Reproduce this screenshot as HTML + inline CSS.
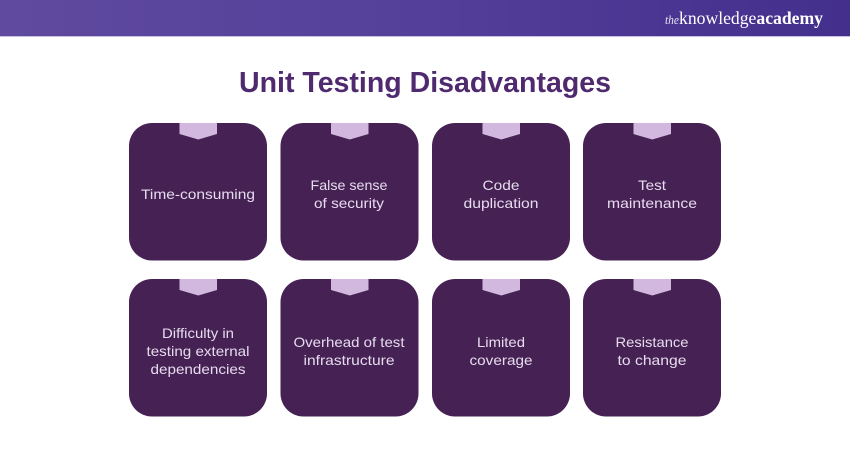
<!DOCTYPE html>
<html>
<head>
<meta charset="utf-8">
<style>
html,body{margin:0;padding:0;background:#fff}
svg{display:block}
text{font-family:"Liberation Sans",sans-serif}
.t{font-size:14px;fill:#e6dcee;text-anchor:middle}
</style>
</head>
<body>
<svg width="850" height="450" viewBox="0 0 850 450" xmlns="http://www.w3.org/2000/svg">
<defs>
<linearGradient id="g" x1="0" x2="1" y1="0" y2="0">
<stop offset="0" stop-color="#5f4a9f"/>
<stop offset="0.5" stop-color="#54409a"/>
<stop offset="1" stop-color="#432f8c"/>
</linearGradient>
<g id="c">
<rect x="0" y="0" width="138" height="137.500" rx="23" fill="#462154"/>
<path d="M50.500 0H88V11L69.300 16.500L50.500 11Z" fill="#d2b8de"/>
</g>
</defs>
<rect width="850" height="36" fill="url(#g)"/>
<rect y="36" width="850" height="1" fill="#c9bedd"/>
<text x="665" y="24" font-size="13" font-style="italic" style="font-family:'Liberation Serif',serif" fill="#e6e0f0" textLength="14" lengthAdjust="spacingAndGlyphs">the</text>
<text x="679" y="24" font-size="18" style="font-family:'Liberation Serif',serif" fill="#fff" textLength="144" lengthAdjust="spacingAndGlyphs">knowledge<tspan font-weight="bold">academy</tspan></text>
<text x="425" y="92" font-size="29" font-weight="bold" fill="#4f2a6e" text-anchor="middle" textLength="372" lengthAdjust="spacingAndGlyphs">Unit Testing Disadvantages</text>

<use href="#c" x="129" y="123"/>
<use href="#c" x="280.500" y="123"/>
<use href="#c" x="432" y="123"/>
<use href="#c" x="583" y="123"/>
<use href="#c" x="129" y="279"/>
<use href="#c" x="280.500" y="279"/>
<use href="#c" x="432" y="279"/>
<use href="#c" x="583" y="279"/>

<text class="t" x="198" y="199" textLength="114" lengthAdjust="spacingAndGlyphs">Time-consuming</text>

<text class="t" x="349" y="190" textLength="77" lengthAdjust="spacingAndGlyphs">False sense</text>
<text class="t" x="349" y="208" textLength="70" lengthAdjust="spacingAndGlyphs">of security</text>

<text class="t" x="501" y="190" textLength="37" lengthAdjust="spacingAndGlyphs">Code</text>
<text class="t" x="501" y="208" textLength="75" lengthAdjust="spacingAndGlyphs">duplication</text>

<text class="t" x="652" y="190" textLength="28" lengthAdjust="spacingAndGlyphs">Test</text>
<text class="t" x="652" y="208" textLength="90" lengthAdjust="spacingAndGlyphs">maintenance</text>

<text class="t" x="198" y="338" textLength="72" lengthAdjust="spacingAndGlyphs">Difficulty in</text>
<text class="t" x="198" y="356" textLength="103" lengthAdjust="spacingAndGlyphs">testing external</text>
<text class="t" x="198" y="374" textLength="95" lengthAdjust="spacingAndGlyphs">dependencies</text>

<text class="t" x="349" y="347" textLength="111" lengthAdjust="spacingAndGlyphs">Overhead of test</text>
<text class="t" x="349" y="365" textLength="91" lengthAdjust="spacingAndGlyphs">infrastructure</text>

<text class="t" x="501" y="347" textLength="48" lengthAdjust="spacingAndGlyphs">Limited</text>
<text class="t" x="501" y="365" textLength="63" lengthAdjust="spacingAndGlyphs">coverage</text>

<text class="t" x="652" y="347" textLength="73" lengthAdjust="spacingAndGlyphs">Resistance</text>
<text class="t" x="652" y="365" textLength="69" lengthAdjust="spacingAndGlyphs">to change</text>
</svg>
</body>
</html>
